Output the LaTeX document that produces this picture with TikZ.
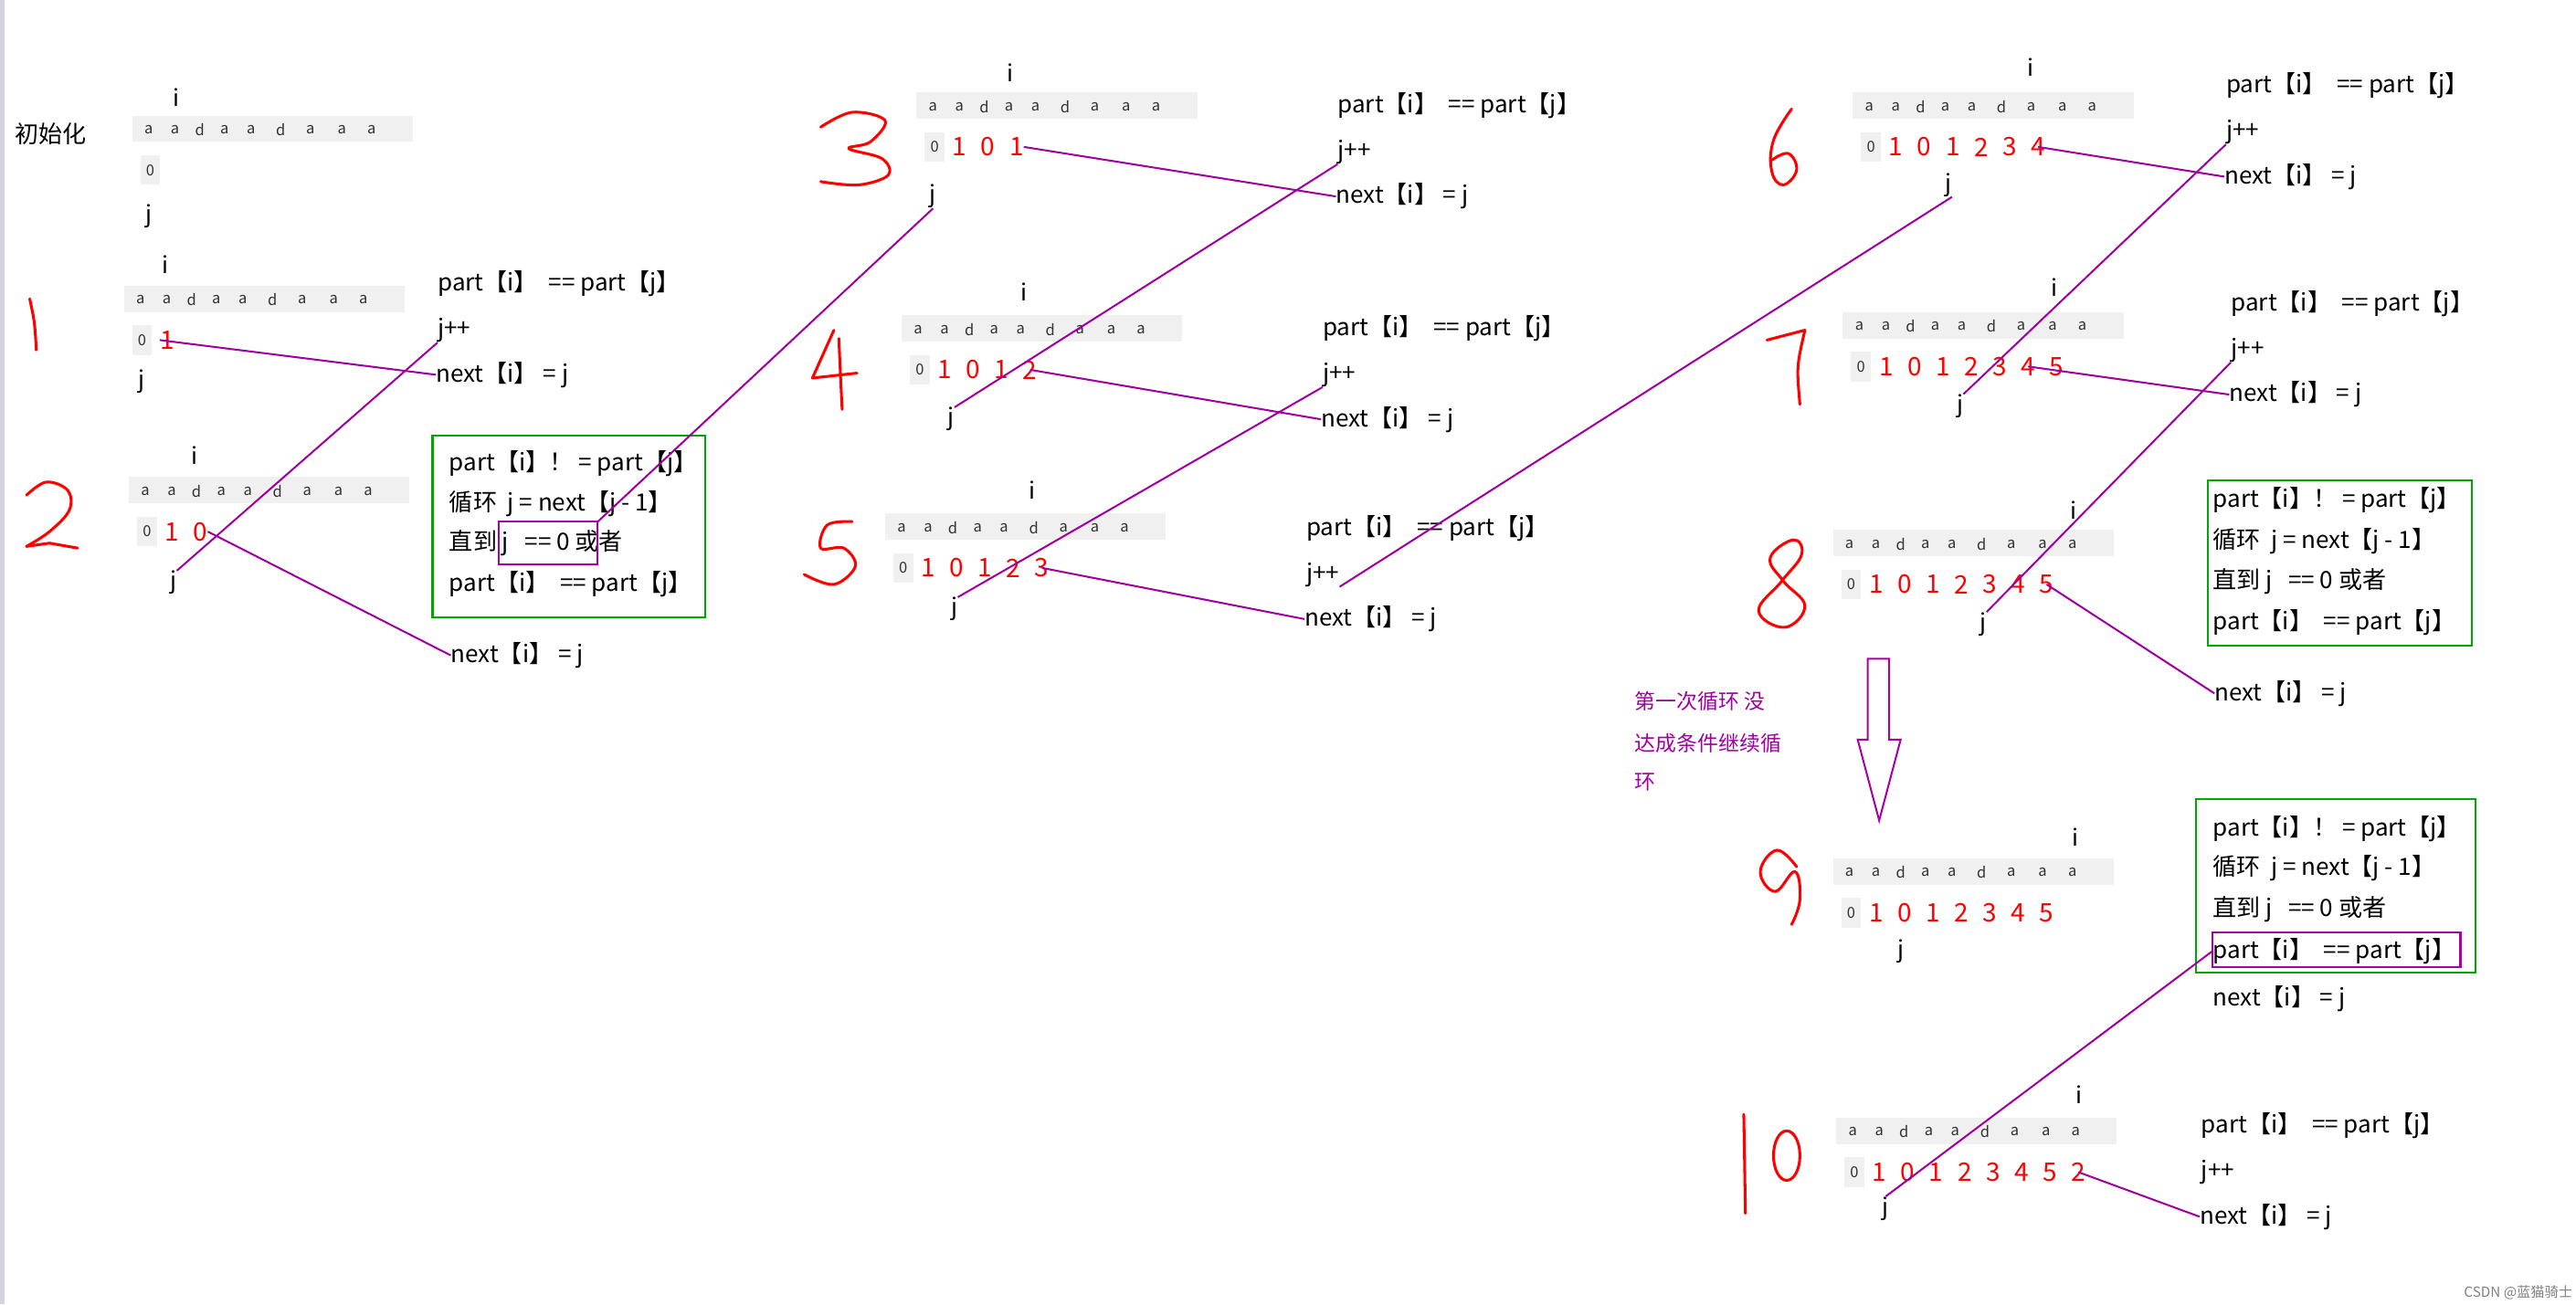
\documentclass[tikz,border=0pt]{standalone}
\usepackage{fontspec}
\setmainfont{Noto Sans CJK SC}
\begin{document}
\begin{tikzpicture}[x=0.05cm,y=-0.05cm,
  lbl/.style={anchor=west,inner sep=0pt,font=\fontsize{20.5}{24}\selectfont},
  ij/.style={inner sep=0pt,font=\fontsize{20}{24}\selectfont},
  arrl/.style={inner sep=0pt,font=\fontsize{13}{15}\selectfont,text=black!80},
  dig/.style={inner sep=0pt,text=red,font=\fontsize{22}{26}\selectfont},
  con/.style={draw=violet!75!magenta,line width=1.6pt},
  hand/.style={draw=red,line width=2.4pt,line cap=round,line join=round},
  gbox/.style={draw=green!65!black,line width=1.8pt},
  pbox/.style={draw=violet!70!magenta,line width=1.6pt}]
\useasboundingbox (0,0) rectangle (1560,790);
\fill[white] (0,0) rectangle (1560,790);
\fill[blue!15!gray!30] (0,0) rectangle (3,790);
\newcommand\myarr[4]{%
  \fill[gray!12] (#2,#3) rectangle ++(170,16);
  \foreach \c [count=\k] in {a,a,d,a,a,d,a,a,a}{%
    \pgfmathsetmacro\off{{0,10,26,41,56,72,90,108,127,145}[\k]}
    \node[arrl] at (#2+\off,#3+8.5) {\c};}
  \fill[gray!12] (#2+5,#3+24) rectangle ++(12,18);
  \node[arrl] (#1z) at (#2+11,#3+33) {0};
  \foreach \d [count=\k] in {#4}{%
    \node[dig] (#1d\k) at (#2+9+\k*17.2,#3+33) {\d};}
}
\newcommand\eqc{part【i】\ \ == part【j】}
\newcommand\neqc{part【i】！\ = part【j】}
\newcommand\loopc{循环\ \ j = next【j - 1】}
\newcommand\untilc{直到 j \ \ == 0 或者}
\newcommand\nxt{next【i】\ = j}
% init
\node[lbl] (init) at (9,81) {初始化};
\node[ij] (i0) at (107,59) {i};
\myarr{p0}{80}{70}{}
\node[ij] (j0) at (90,131) {j};
% panel 1
\node[ij] (i1) at (100,160) {i};
\myarr{p1}{75}{173}{1}
\node[ij] (j1) at (86,231) {j};
\node[lbl] (c1) at (265,172) {\eqc};
\node[lbl] (u1) at (265,200) {j++};
\node[lbl] (n1) at (264,227) {\nxt};
% panel 2
\node[ij] (i2) at (118,276) {i};
\myarr{p2}{78}{289}{1,0}
\node[ij] (j2) at (105,353) {j};
\draw[gbox] (262,264) rectangle (427,374);
\node[lbl] (g1) at (272,281) {\neqc};
\node[lbl] (g2) at (272,305) {\loopc};
\node[lbl] (g3) at (272,329) {\untilc};
\node[lbl] (g4) at (272,354) {\eqc};
\draw[pbox] (302,316) rectangle (362,342);
\node[lbl] (n2) at (273,397) {\nxt};
% panel 3
\node[ij] (i3) at (612,44) {i};
\myarr{p3}{555}{56}{1,0,1}
\node[ij] (j3) at (565,119) {j};
\node[lbl] (c3) at (810,64) {\eqc};
\node[lbl] (u3) at (810,92) {j++};
\node[lbl] (n3) at (809,119) {\nxt};
% panel 4
\node[ij] (i4) at (620,177) {i};
\myarr{p4}{546}{191}{1,0,1,2}
\node[ij] (j4) at (576,254) {j};
\node[lbl] (c4) at (801,199) {\eqc};
\node[lbl] (u4) at (801,227) {j++};
\node[lbl] (n4) at (800,254) {\nxt};
% panel 5
\node[ij] (i5) at (625,297) {i};
\myarr{p5}{536}{311}{1,0,1,2,3}
\node[ij] (j5) at (578,369) {j};
\node[lbl] (c5) at (791,320) {\eqc};
\node[lbl] (u5) at (791,348) {j++};
\node[lbl] (n5) at (790,375) {\nxt};
% panel 6
\node[ij] (i6) at (1230,41) {i};
\myarr{p6}{1122}{56}{1,0,1,2,3,4}
\node[ij] (j6) at (1180,112) {j};
\node[lbl] (c6) at (1348,52) {\eqc};
\node[lbl] (u6) at (1348,80) {j++};
\node[lbl] (n6) at (1347,107) {\nxt};
% panel 7
\node[ij] (i7) at (1244,174) {i};
\myarr{p7}{1116}{189}{1,0,1,2,3,4,5}
\node[ij] (j7) at (1187,246) {j};
\node[lbl] (c7) at (1351,184) {\eqc};
\node[lbl] (u7) at (1351,212) {j++};
\node[lbl] (n7) at (1350,239) {\nxt};
% panel 8
\node[ij] (i8) at (1256,309) {i};
\myarr{p8}{1110}{321}{1,0,1,2,3,4,5}
\node[ij] (j8) at (1201,378) {j};
\draw[gbox] (1337,291) rectangle (1497,391);
\node[lbl] (h1) at (1340,303) {\neqc};
\node[lbl] (h2) at (1340,328) {\loopc};
\node[lbl] (h3) at (1340,352) {\untilc};
\node[lbl] (h4) at (1340,377) {\eqc};
\node[lbl] (n8) at (1341,420) {\nxt};
% hollow arrow and note
\draw[pbox,line join=miter] (1131,399) -- (1144,399) -- (1144,448) -- (1151,448) -- (1138,497) -- (1125,448) -- (1131,448) -- cycle;
\node[lbl,text=violet!75!magenta,font=\fontsize{18}{20}\selectfont] (note1) at (990,425) {第一次循环 没};
\node[lbl,text=violet!75!magenta,font=\fontsize{18}{20}\selectfont] (note2) at (990,450) {达成条件继续循};
\node[lbl,text=violet!75!magenta,font=\fontsize{18}{20}\selectfont] (note3) at (990,474) {环};
% panel 9
\node[ij] (i9) at (1257,507) {i};
\myarr{p9}{1110}{520}{1,0,1,2,3,4,5}
\node[ij] (j9) at (1151,576) {j};
\draw[gbox] (1330,484) rectangle (1499,589);
\node[lbl] (k1) at (1340,502) {\neqc};
\node[lbl] (k2) at (1340,526) {\loopc};
\node[lbl] (k3) at (1340,551) {\untilc};
\node[lbl] (k4) at (1340,576) {\eqc};
\draw[pbox] (1340,565) rectangle (1490,586);
\node[lbl] (n9) at (1340,605) {\nxt};
% panel 10
\node[ij] (i10) at (1259,663) {i};
\myarr{p10}{1112}{677}{1,0,1,2,3,4,5,2}
\node[ij] (j10) at (1142,732) {j};
\node[lbl] (c10) at (1333,682) {\eqc};
\node[lbl] (u10) at (1333,710) {j++};
\node[lbl] (n10) at (1332,737) {\nxt};
% connectors
\coordinate (b2) at (362,316);
\coordinate (b9) at (1340,576);
\draw[con] (p1d1.west) -- (n1.west);
\draw[con] (j2.north east) -- (u1.south west);
\draw[con] (p2d2.east) -- (n2.west);
\draw[con] (b2) -- (j3.south);
\draw[con] (p3d3.east) -- (n3.west);
\draw[con] (j4.north east) -- (u3.south west);
\draw[con] (p4d4.center) -- (n4.west);
\draw[con] (j5.north east) -- (u4.south west);
\draw[con] (p5d5.center) -- (n5.west);
\draw[con] (u5.south east) -- (j6.south east);
\draw[con] (p6d6.center) -- (n6.west);
\draw[con] (j7.north east) -- (u6.south west);
\draw[con] (p7d6.center) -- (n7.west);
\draw[con] (j8.north east) -- (u7.south west);
\draw[con] (p8d7.center) -- (n8.west);
\draw[con] (j10.north) -- (b9);
\draw[con] (p10d8.center) -- (n10.west);
% hand-drawn step numbers
\draw[hand] (18,181) .. controls (21,195) .. (22,212);
\draw[hand] plot[smooth,tension=0.6] coordinates {(16,300) (28,292) (41,297) (42,309) (30,322) (16,331)} -- (30,329) -- (47,332);
\draw[hand] plot[smooth,tension=0.6] coordinates {(497,77) (516,68) (536,73) (527,86) (514,90) (534,96) (538,106) (520,112) (497,110)};
\draw[hand] (505,200) -- (492,229) -- (519,226);
\draw[hand] (508,205) .. controls (509,228) .. (510,248);
\draw[hand] plot[smooth,tension=0.6] coordinates {(516,316) (501,318) (497,332) (511,332) (518,343) (505,354) (487,348)};
\draw[hand] plot[smooth,tension=0.7] coordinates {(1085,66) (1074,85) (1073,104) (1080,112) (1088,103) (1083,93) (1073,97)};
\draw[hand] (1070,206) -- (1093,200) .. controls (1088,222) .. (1090,245);
\draw[hand] plot[smooth cycle,tension=0.7] coordinates {(1086,327) (1072,338) (1080,352) (1093,367) (1081,380) (1065,370) (1079,352) (1091,336)};
\draw[hand] plot[smooth,tension=0.7] coordinates {(1088,525) (1076,515) (1066,528) (1075,540) (1087,528) (1090,545) (1085,560)};
\draw[hand] (1056,675) -- (1057,735);
\draw[hand] (1082,700) ellipse (8 and 15);
% watermark
\node[inner sep=0pt,anchor=east,text=gray,font=\fontsize{12}{14}\selectfont] (wm) at (1558,783) {CSDN @蓝猫骑士};
\end{tikzpicture}
\end{document}
